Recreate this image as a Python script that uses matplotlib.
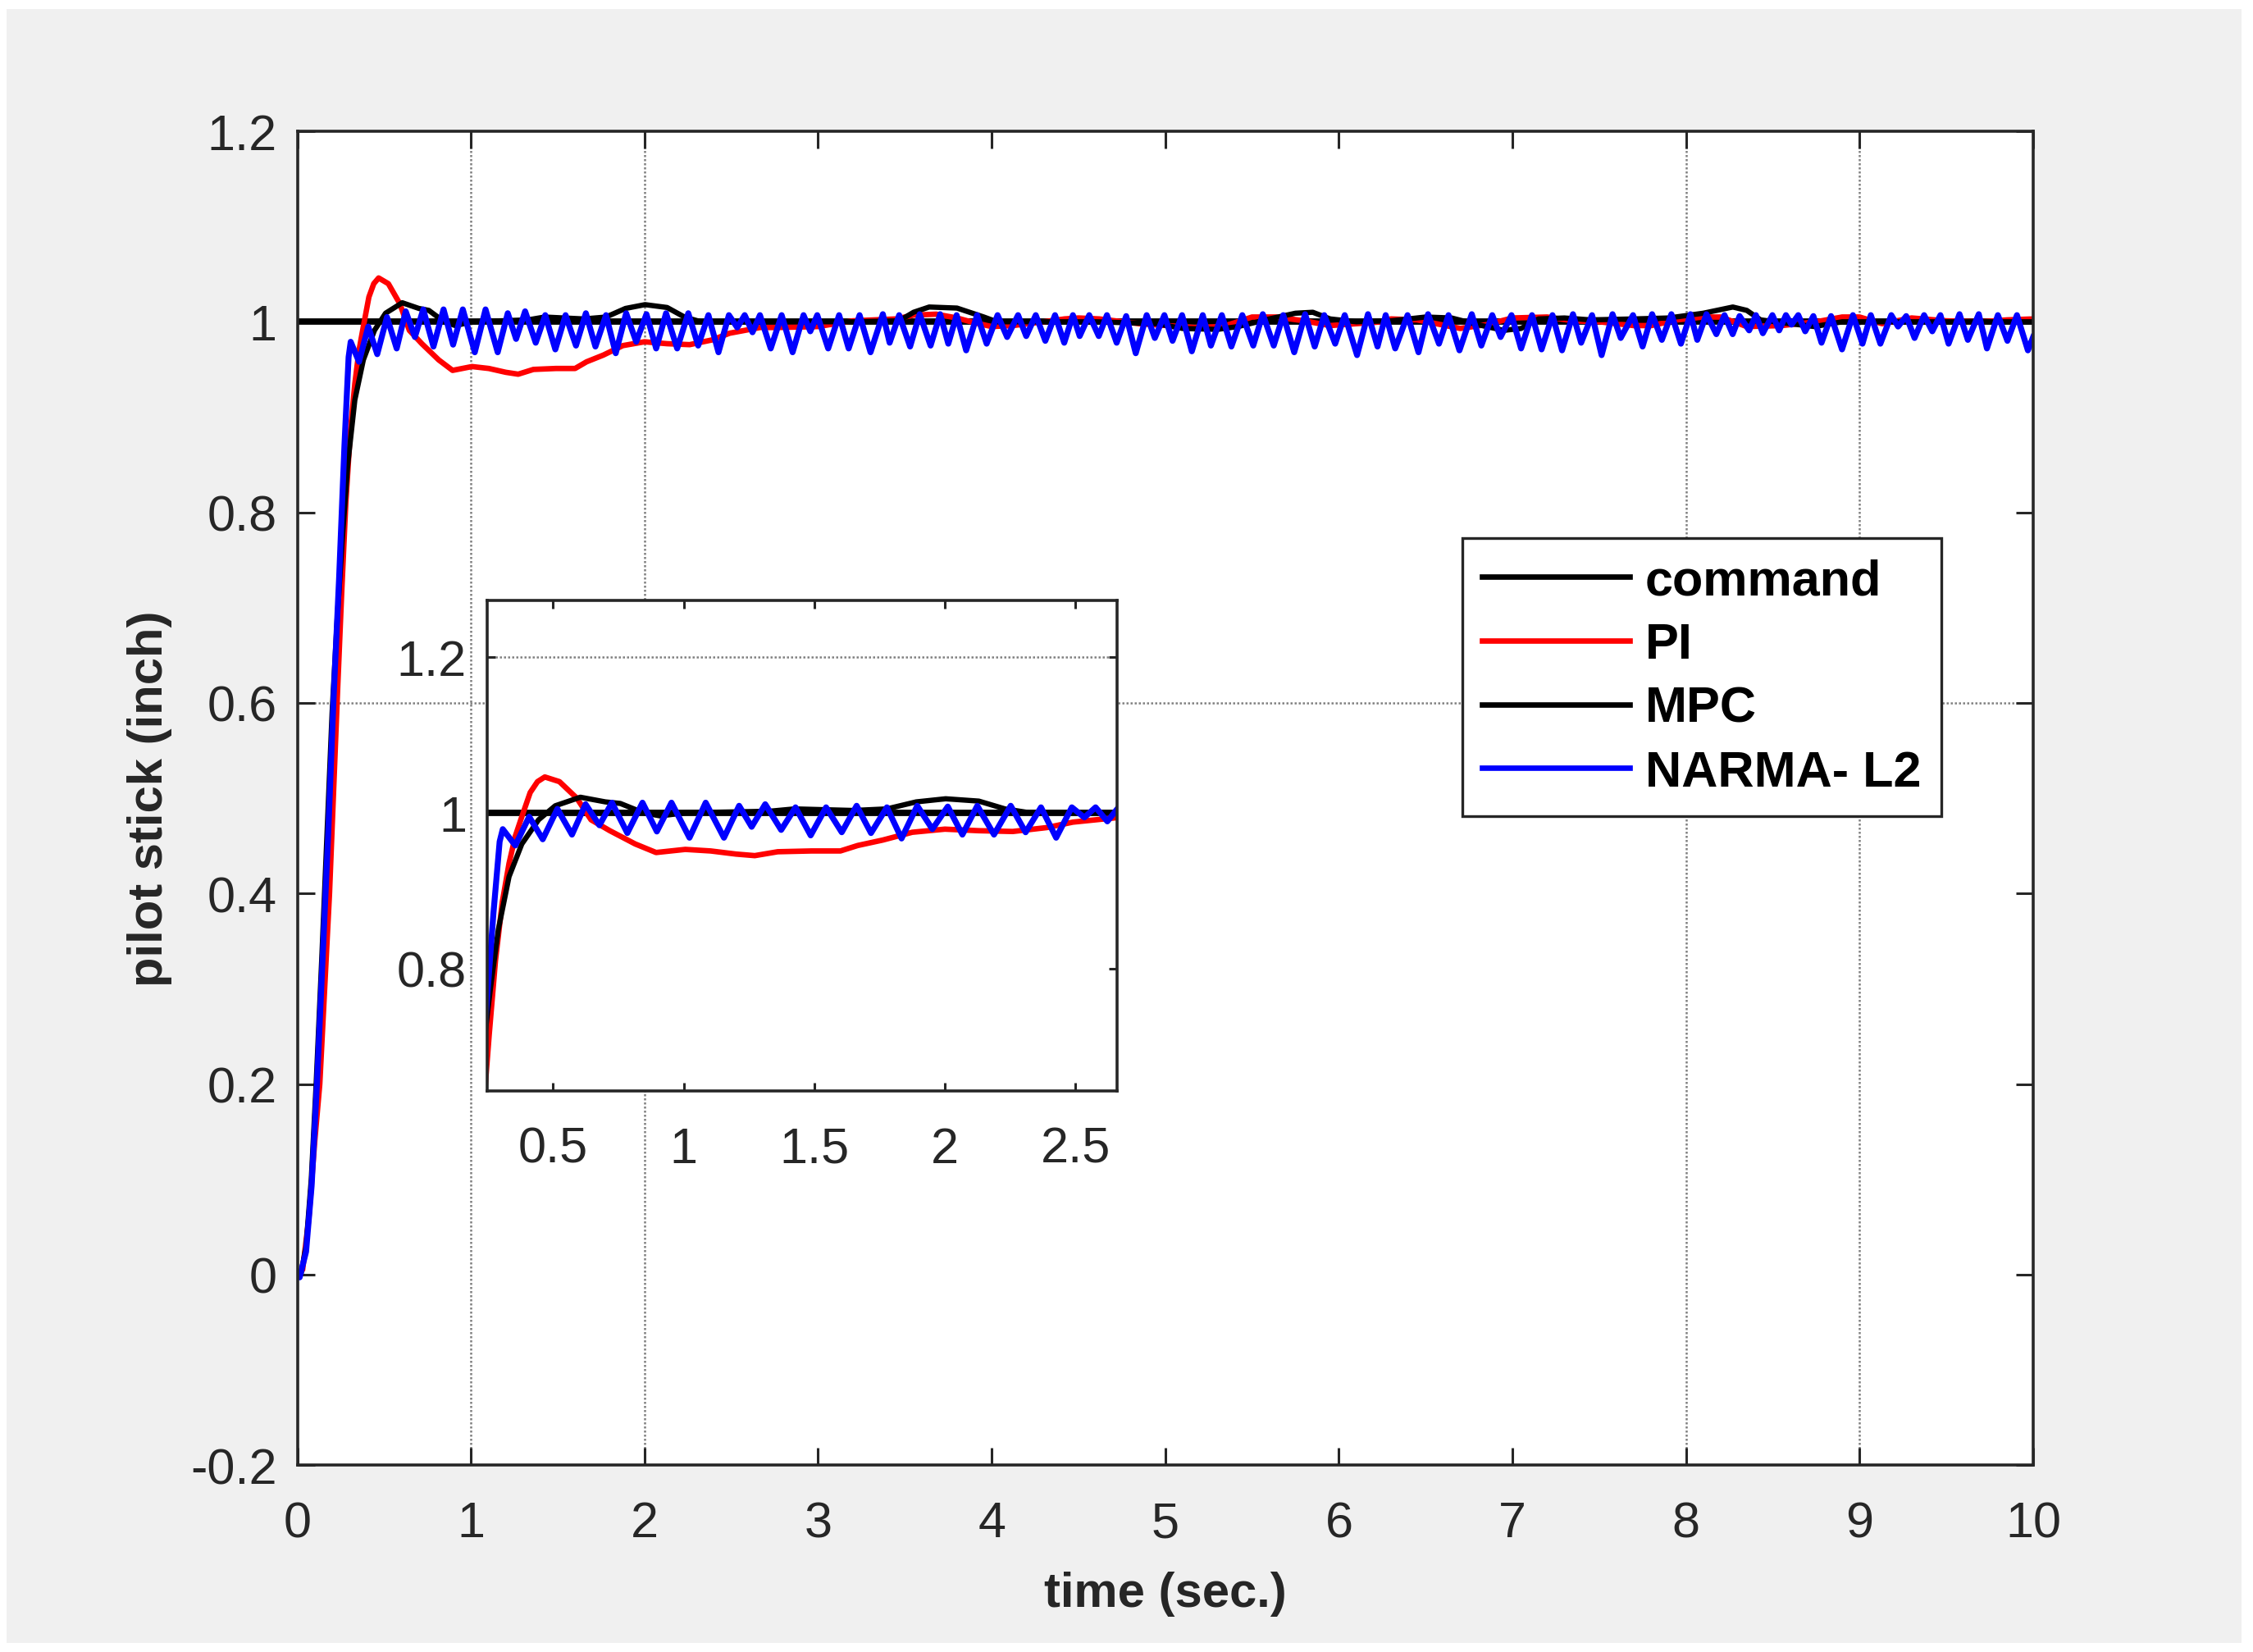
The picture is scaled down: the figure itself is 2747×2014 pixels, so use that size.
import matplotlib
matplotlib.use('Agg')
import matplotlib.pyplot as plt
from matplotlib.patches import Rectangle

plt.rcParams['font.family'] = ['Liberation Sans', 'DejaVu Sans']

# command signal
t_cmd = [0, 10]
y_cmd = [1, 1]

# PI response
t_pi = [0.0, 0.03, 0.066, 0.1, 0.129, 0.157, 0.185, 0.208, 0.232, 0.255, 0.279, 0.305,
        0.331, 0.355, 0.38, 0.412, 0.44, 0.468, 0.524, 0.59, 0.645, 0.717, 0.814, 0.894,
        1.006, 1.103, 1.2, 1.272, 1.36, 1.489, 1.6, 1.666, 1.762, 1.875, 2.0, 2.13, 2.26,
        2.39, 2.49, 2.666, 2.77, 3.0, 3.2, 3.45, 3.55, 3.68, 3.8, 3.9, 4.0, 4.12, 4.3, 4.42,
        4.5, 4.62, 4.85, 5.17, 5.33, 5.4, 5.5, 5.64, 5.8, 5.95, 6.1, 6.25,
        6.3, 6.45, 6.7, 6.85, 7.0, 7.2, 7.35, 7.5, 7.7, 7.8, 7.95, 8.1,
        8.2, 8.35, 8.55, 8.75, 8.9, 9.0, 9.13, 9.3, 9.5, 9.7, 9.85, 10.0]
y_pi = [0.0, 0.005, 0.059, 0.14, 0.2, 0.3, 0.4, 0.505, 0.615, 0.715, 0.81, 0.885,
        0.935, 0.97, 0.995, 1.026, 1.04, 1.046, 1.040, 1.019, 0.991, 0.977, 0.960, 0.949,
        0.953, 0.951, 0.947, 0.945, 0.95, 0.951, 0.951, 0.958, 0.965, 0.975, 0.979, 0.977, 0.976,
        0.981, 0.988, 0.994, 0.994, 0.995, 1.001, 1.003, 1.007, 1.008, 1.004, 0.999, 0.995, 0.996, 1.0, 1.003,
        1.004, 1.003, 0.998, 0.994, 0.995, 0.999, 1.005, 1.005, 1.001, 0.996, 0.998, 1.0,
        1.003, 1.002, 0.993, 0.997, 1.004, 1.005, 1.001, 1.0, 0.996, 0.996, 1.002, 1.005,
        1.005, 0.995, 0.996, 1.0, 1.005, 1.005, 0.998, 1.004, 1.001, 1.0, 1.002, 1.003]

# MPC response
t_mpc = [0.0, 0.02, 0.05, 0.08, 0.108, 0.14, 0.17, 0.2, 0.23, 0.26, 0.29, 0.331, 0.38,
         0.444, 0.508, 0.604, 0.7, 0.757, 0.846, 0.91, 1.006, 1.328, 1.424, 1.65, 1.778,
         1.89, 2.003, 2.13, 2.23, 2.325, 2.6, 3.2, 3.467, 3.55, 3.64, 3.8, 3.955, 4.03,
         4.6, 4.95, 5.1, 5.3, 5.42, 5.6, 5.75, 5.85, 5.95, 6.1,
         6.3, 6.5, 6.65, 6.8, 6.95, 7.05, 7.15, 7.3, 7.45, 7.7, 7.9, 8.1,
         8.27, 8.35, 8.43, 8.6, 8.74, 8.9, 10.0]
y_mpc = [0.0, 0.0, 0.03, 0.1, 0.2, 0.33, 0.46, 0.59, 0.69, 0.775, 0.85, 0.918, 0.96,
         0.991, 1.009, 1.02, 1.014, 1.012, 1.0, 0.996, 1.0, 1.002, 1.005, 1.003, 1.005,
         1.014, 1.018, 1.015, 1.005, 1.0, 1.0, 1.0, 1.001, 1.01, 1.0155, 1.0144, 1.005, 1.0,
         1.0, 0.998, 0.993, 0.992, 0.995, 1.003, 1.009, 1.01, 1.003, 1.0,
         1.001, 1.005, 1.004, 0.997, 0.991, 0.993, 1.003, 1.004, 1.002, 1.003, 1.004, 1.009,
         1.0155, 1.012, 1.002, 0.998, 0.995, 1.0, 1.0]

# NARMA-L2 response (peaks and troughs of the oscillation)
t_narma = [0.0, 0.013, 0.05, 0.082, 0.113, 0.145, 0.177, 0.208, 0.24, 0.271, 0.295,
           0.307, 0.355, 0.408, 0.46, 0.516, 0.572, 0.624, 0.677, 0.725, 0.784, 0.842, 0.897,
           0.953, 1.022, 1.084, 1.154, 1.212, 1.26, 1.312, 1.373, 1.428, 1.486, 1.545, 1.605,
           1.662, 1.717, 1.778, 1.834, 1.894, 1.952, 2.011, 2.067, 2.124, 2.188, 2.252, 2.309,
           2.368, 2.426, 2.486, 2.534, 2.577, 2.622, 2.665,
           2.727, 2.790, 2.853, 2.916, 2.955, 2.995, 3.058, 3.121, 3.176, 3.239, 3.302, 3.373,
           3.412, 3.467, 3.530, 3.585, 3.648, 3.703, 3.750, 3.798, 3.853, 3.916, 3.971, 4.034,
           4.089, 4.152, 4.199, 4.254, 4.309, 4.365, 4.418,
           4.468, 4.507, 4.562, 4.617, 4.664, 4.720, 4.775, 4.830, 4.893, 4.940, 4.995, 5.042,
           5.097, 5.153, 5.216, 5.263, 5.326, 5.381, 5.444, 5.507, 5.562, 5.625, 5.680, 5.743,
           5.806, 5.861, 5.916, 5.979, 6.034, 6.105, 6.168, 6.223,
           6.270, 6.325, 6.396, 6.459, 6.514, 6.577, 6.632, 6.695, 6.766, 6.821, 6.884, 6.932,
           6.995, 7.050, 7.113, 7.168, 7.231, 7.286, 7.349, 7.396, 7.459, 7.514, 7.577, 7.624,
           7.695, 7.750, 7.805, 7.861, 7.916, 7.971, 8.026, 8.065, 8.118,
           8.175, 8.222, 8.269, 8.309, 8.364, 8.403, 8.443, 8.498, 8.537, 8.576, 8.608, 8.647,
           8.687, 8.734, 8.781, 8.836, 8.899, 8.962, 9.017, 9.065, 9.120, 9.183, 9.222, 9.269,
           9.317, 9.372, 9.419, 9.466, 9.513, 9.576, 9.624, 9.687, 9.734, 9.797, 9.852, 9.907,
           9.970, 10.0]
y_narma = [0.0, -0.003, 0.024, 0.093, 0.201, 0.331, 0.46, 0.603, 0.73, 0.87, 0.963,
           0.979, 0.958, 0.995, 0.966, 1.005, 0.972, 1.011, 0.984, 1.013, 0.974, 1.013, 0.976,
           1.013, 0.968, 1.013, 0.968, 1.009, 0.982, 1.011, 0.978, 1.007, 0.971, 1.007, 0.975,
           1.009, 0.974, 1.007, 0.967, 1.009, 0.979, 1.008, 0.972, 1.009, 0.972, 1.009, 0.975,
           1.007, 0.968, 1.007, 0.994, 1.007, 0.989, 1.007,
           0.972, 1.007, 0.968, 1.007, 0.990, 1.007, 0.972, 1.007, 0.972, 1.007, 0.968, 1.008,
           0.978, 1.007, 0.974, 1.008, 0.975, 1.008, 0.977, 1.007, 0.970, 1.007, 0.977, 1.007,
           0.984, 1.007, 0.985, 1.007, 0.980, 1.007, 0.978,
           1.007, 0.985, 1.007, 0.985, 1.007, 0.978, 1.006, 0.967, 1.007, 0.983, 1.007, 0.980,
           1.007, 0.969, 1.007, 0.975, 1.007, 0.974, 1.007, 0.975, 1.008, 0.975, 1.007, 0.968,
           1.008, 0.974, 1.007, 0.977, 1.007, 0.965, 1.008, 0.974,
           1.007, 0.972, 1.007, 0.968, 1.008, 0.977, 1.007, 0.970, 1.008, 0.975, 1.007, 0.984,
           1.007, 0.972, 1.007, 0.971, 1.007, 0.970, 1.008, 0.978, 1.007, 0.965, 1.008, 0.983,
           1.007, 0.974, 1.008, 0.981, 1.008, 0.977, 1.008, 0.981, 1.008,
           0.987, 1.007, 0.987, 1.006, 0.991, 1.007, 0.988, 1.007, 0.991, 1.007, 0.997, 1.007,
           0.990, 1.006, 0.978, 1.006, 0.971, 1.007, 0.977, 1.007, 0.977, 1.007, 0.995, 1.006,
           0.983, 1.007, 0.990, 1.007, 0.977, 1.008, 0.981, 1.008, 0.972, 1.007, 0.980, 1.007,
           0.970, 0.984]

x_ticks = list(range(0, 11))
y_ticks = [-0.2, 0, 0.2, 0.4, 0.6, 0.8, 1, 1.2]
y_tick_labels = ['-0.2', '0', '0.2', '0.4', '0.6', '0.8', '1', '1.2']
inset_x_ticks = [0.5, 1, 1.5, 2, 2.5]
inset_x_labels = ['0.5', '1', '1.5', '2', '2.5']
inset_y_ticks = [0.8, 1, 1.2]
inset_y_labels = ['0.8', '1', '1.2']

axis_col = '#262626'
grid_kw = dict(color='#808080', lw=0.9, ls=(0, (1, 1)), zorder=0.5)

fig = plt.figure(figsize=(13.735, 10.075), dpi=200, facecolor='white')
fig.patches.append(Rectangle((0.003, 0.0055), 0.992, 0.9887, transform=fig.transFigure,
                             facecolor='#f0f0f0', edgecolor='none', zorder=-10))

ax = fig.add_axes([0.132, 0.1131, 0.7704, 0.807])
ax.set_facecolor('white')


def draw_lines(a, with_labels):
    a.plot(t_cmd, y_cmd, color='black', lw=2.8, label='command' if with_labels else None)
    a.plot(t_pi, y_pi, color='red', lw=2.4, label='PI' if with_labels else None)
    a.plot(t_mpc, y_mpc, color='black', lw=2.3, label='MPC' if with_labels else None)
    a.plot(t_narma, y_narma, color='blue', lw=2.6, solid_joinstyle='round',
           label='NARMA- L2' if with_labels else None)


def style_axes(a, tick_len):
    for s in a.spines.values():
        s.set_color(axis_col)
        s.set_linewidth(1.3)
    a.tick_params(direction='in', top=True, right=True, length=tick_len, width=1.1,
                  colors=axis_col, labelsize=22)
    a.tick_params(axis='x', pad=15.5)
    a.tick_params(axis='y', pad=9)


draw_lines(ax, True)
# only some grid lines survive in the exported picture
for gx in [1, 2, 8, 9]:
    ax.axvline(gx, **grid_kw)
ax.axhline(0.6, **grid_kw)

ax.set_xlim(0, 10)
ax.set_ylim(-0.2, 1.2)
ax.set_xticks(x_ticks)
ax.set_xticklabels([str(v) for v in x_ticks])
ax.set_yticks(y_ticks)
ax.set_yticklabels(y_tick_labels)
style_axes(ax, 7.5)

ax.set_xlabel('time (sec.)', fontsize=21.5, fontweight='bold', color=axis_col)
ax.set_ylabel('pilot stick (inch)', fontsize=21.5, fontweight='bold', color=axis_col)
ax.xaxis.set_label_coords(0.5, -0.079)
ax.yaxis.set_label_coords(-0.072, 0.5)

leg = ax.legend(loc='upper left', bbox_to_anchor=(0.671, 0.695), borderaxespad=0,
                prop={'size': 22, 'weight': 'bold'}, handlelength=2.95, handletextpad=0.3,
                labelspacing=0.34, borderpad=0.4, fancybox=False, framealpha=1)
leg.get_frame().set_edgecolor(axis_col)
leg.get_frame().set_linewidth(1.2)
for line in leg.get_lines():
    line.set_linewidth(2.4)

# zoomed inset of the first seconds
axin = fig.add_axes([0.2162, 0.3395, 0.2797, 0.2969], zorder=5)
axin.set_facecolor('white')
draw_lines(axin, False)
axin.axhline(1.2, **grid_kw)
axin.set_xlim(0.247, 2.66)
axin.set_ylim(0.643, 1.273)
axin.set_xticks(inset_x_ticks)
axin.set_xticklabels(inset_x_labels)
axin.set_yticks(inset_y_ticks)
axin.set_yticklabels(inset_y_labels)
style_axes(axin, 3.5)

fig.savefig('out.png', dpi=200, facecolor=fig.get_facecolor())
